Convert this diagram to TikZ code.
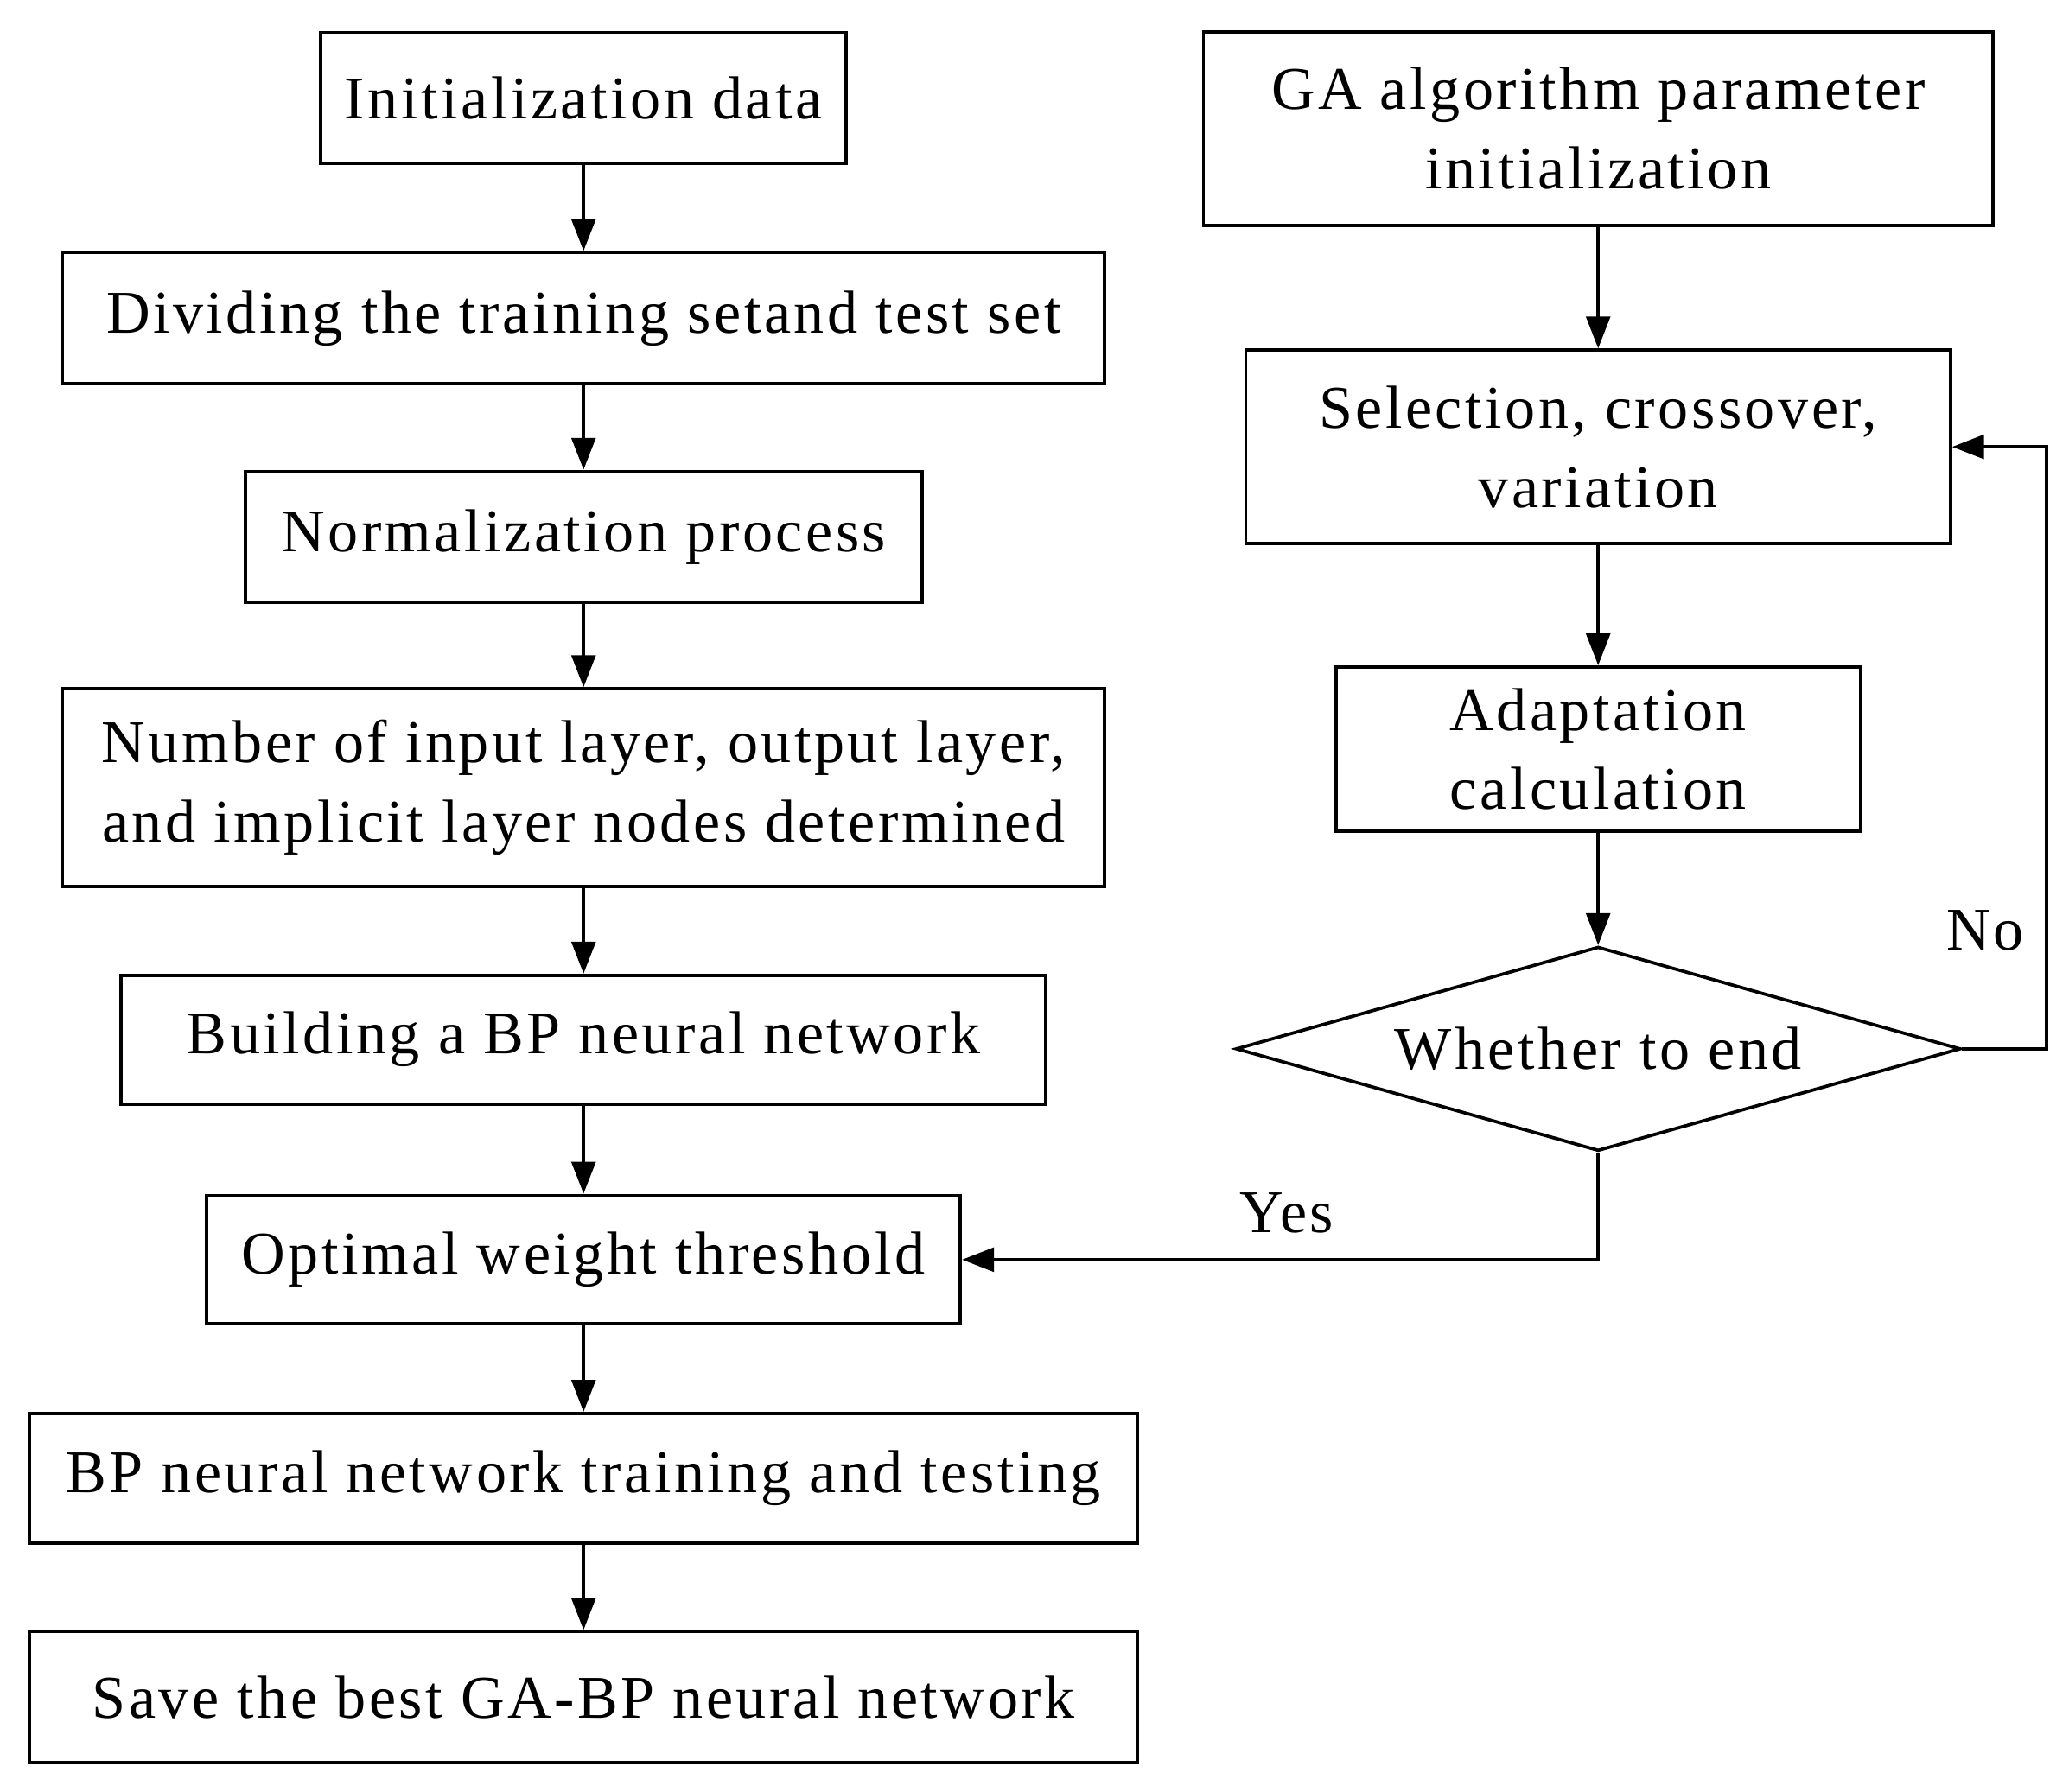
\documentclass[tikz,border=0pt]{standalone}
\usepackage{fontspec}
\setmainfont{Liberation Serif}[LetterSpace=5]
\usetikzlibrary{shapes.geometric,arrows.meta}
\begin{document}
\begin{tikzpicture}[x=0.01cm,y=-0.01cm,
  box/.style={draw,line width=0.7pt,inner sep=0pt,align=center,font=\fontsize{13}{17}\selectfont},
  arr/.style={line width=0.7pt,-{Triangle[length=0.24cm,width=0.18cm]}},
  lbl/.style={font=\fontsize{13}{15}\selectfont}]
\useasboundingbox (0,0) rectangle (1560,1351);
\node[box,minimum width=3.96cm,minimum height=0.99cm] (A) at (440,74) {Initialization data};
\node[box,minimum width=7.85cm,minimum height=0.99cm] (B) at (440,240) {Dividing the training setand test set};
\node[box,minimum width=5.10cm,minimum height=0.99cm] (C) at (440,405) {Normalization process};
\node[box,minimum width=7.85cm,minimum height=1.49cm] (D) at (440,594) {Number of input layer, output layer,\\and implicit layer nodes determined};
\node[box,minimum width=6.97cm,minimum height=0.97cm] (E) at (440,784) {Building a BP neural network};
\node[box,minimum width=5.68cm,minimum height=0.97cm] (F) at (440,950) {Optimal weight threshold};
\node[box,minimum width=8.35cm,minimum height=0.98cm] (G) at (440,1115) {BP neural network training and testing};
\node[box,minimum width=8.35cm,minimum height=0.99cm] (H) at (440,1280) {Save the best GA-BP neural network};
\node[box,minimum width=5.95cm,minimum height=1.46cm] (R1) at (1205,97) {GA algorithm parameter\\initialization};
\node[box,minimum width=5.31cm,minimum height=1.46cm] (R2) at (1205,337) {Selection, crossover,\\variation};
\node[box,minimum width=3.95cm,minimum height=1.24cm] (R3) at (1205,565) {Adaptation\\calculation};
\node[box,diamond,aspect=3.55,minimum width=5.46cm,minimum height=1.54cm] (W) at (1205,791) {Whether to end};
\draw[arr] (A) -- (B);
\draw[arr] (B) -- (C);
\draw[arr] (C) -- (D);
\draw[arr] (D) -- (E);
\draw[arr] (E) -- (F);
\draw[arr] (F) -- (G);
\draw[arr] (G) -- (H);
\draw[arr] (R1) -- (R2);
\draw[arr] (R2) -- (R3);
\draw[arr] (R3) -- (W);
\coordinate (n1) at (1543,791);
\coordinate (n2) at (1543,337);
\coordinate (y1) at (1205,950);
\draw[arr] (W.east) -- (n1) -- (n2) -- (R2.east);
\draw[arr] (W.south) -- (y1) -- (F.east);
\node[lbl] (no) at (1497,702) {No};
\node[lbl] (yes) at (970,915) {Yes};
\end{tikzpicture}
\end{document}
